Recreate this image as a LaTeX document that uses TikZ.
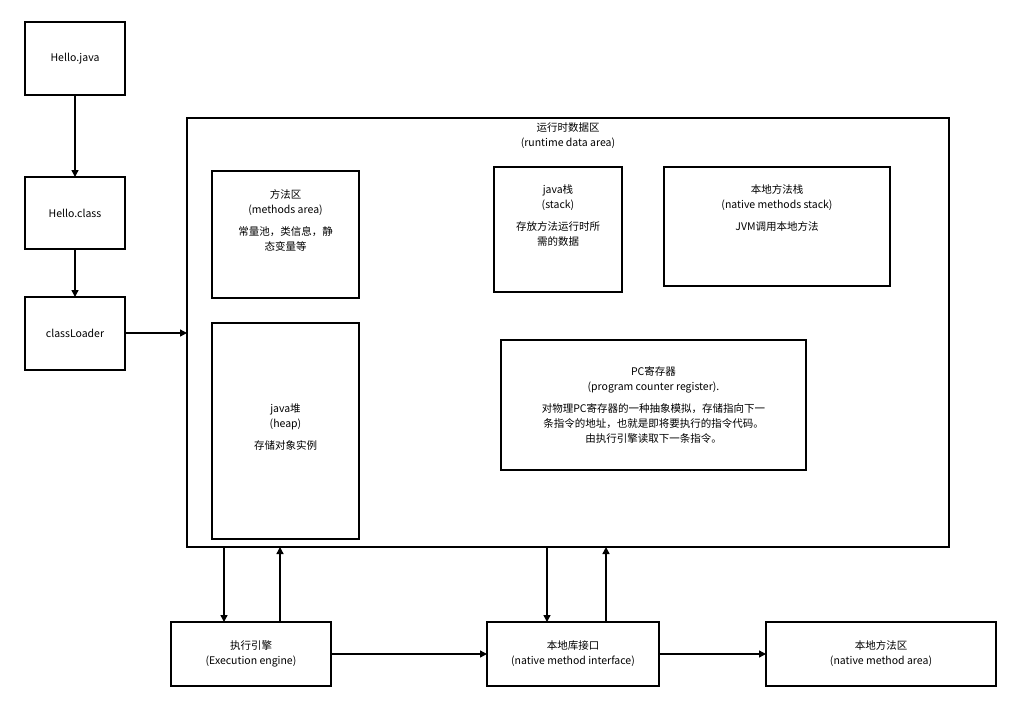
\documentclass[tikz,border=0pt]{standalone}
\usepackage{fontspec}
\setmainfont{Noto Sans CJK SC}
\usetikzlibrary{arrows.meta}
\begin{document}
\begin{tikzpicture}[x=1pt,y=-1pt,
  bx/.style={draw,line width=1.4pt,fill=white},
  lbl/.style={align=center,font=\fontsize{10.5}{15}\selectfont},
  ar/.style={line width=1.4pt,-{Triangle[length=7pt,width=7pt]}}]
\useasboundingbox (0,0) rectangle (1021,710);
\draw[bx] (25,22) rectangle (125,95);
\node[lbl] (hj) at (75,58.5) {Hello.java};
\draw[bx] (25,177) rectangle (125,249);
\node[lbl] (hc) at (75,213) {Hello.class};
\draw[bx] (25,297) rectangle (125,370);
\node[lbl] (cl) at (75,333.5) {classLoader};
\draw[bx] (187,118) rectangle (949,547);
\node[lbl,anchor=north] (rt) at (568,119) {运行时数据区\\(runtime data area)};
\draw[bx] (212,171) rectangle (359,298);
\node[lbl,anchor=north] (ma) at (285.5,186) {方法区\\(methods area)\\[7pt]常量池，类信息，静\\态变量等};
\draw[bx] (494,167) rectangle (622,292);
\node[lbl,anchor=north] (st) at (558,181) {java栈\\(stack)\\[7pt]存放方法运行时所\\需的数据};
\draw[bx] (664,167) rectangle (890,286);
\node[lbl,anchor=north] (ns) at (777,181) {本地方法栈\\(native methods stack)\\[7pt]JVM调用本地方法};
\draw[bx] (212,323) rectangle (359,539);
\node[lbl] (hp) at (285.5,427) {java堆\\(heap)\\[7pt]存储对象实例};
\draw[bx] (501,340) rectangle (806,470);
\node[lbl] (pc) at (653.5,405) {PC寄存器\\(program counter register).\\[7pt]对物理PC寄存器的一种抽象模拟，存储指向下一\\条指令的地址，也就是即将要执行的指令代码。\\由执行引擎读取下一条指令。};
\draw[bx] (171,622) rectangle (331,686);
\node[lbl] (ee) at (251,654) {执行引擎\\(Execution engine)};
\draw[bx] (487,622) rectangle (659,686);
\node[lbl] (ni) at (573,654) {本地库接口\\(native method interface)};
\draw[bx] (766,622) rectangle (996,686);
\node[lbl] (na) at (881,654) {本地方法区\\(native method area)};
\coordinate (a1) at (75,95); \coordinate (a2) at (75,177);
\draw[ar] (a1) -- (a2);
\coordinate (b1) at (75,249); \coordinate (b2) at (75,297);
\draw[ar] (b1) -- (b2);
\coordinate (c1) at (125,333); \coordinate (c2) at (187,333);
\draw[ar] (c1) -- (c2);
\coordinate (d1) at (224,547); \coordinate (d2) at (224,622);
\draw[ar] (d1) -- (d2);
\coordinate (e1) at (280,622); \coordinate (e2) at (280,547);
\draw[ar] (e1) -- (e2);
\coordinate (f1) at (547,547); \coordinate (f2) at (547,622);
\draw[ar] (f1) -- (f2);
\coordinate (g1) at (606,622); \coordinate (g2) at (606,547);
\draw[ar] (g1) -- (g2);
\coordinate (h1) at (331,654); \coordinate (h2) at (487,654);
\draw[ar] (h1) -- (h2);
\coordinate (i1) at (659,654); \coordinate (i2) at (766,654);
\draw[ar] (i1) -- (i2);
\end{tikzpicture}
\end{document}
